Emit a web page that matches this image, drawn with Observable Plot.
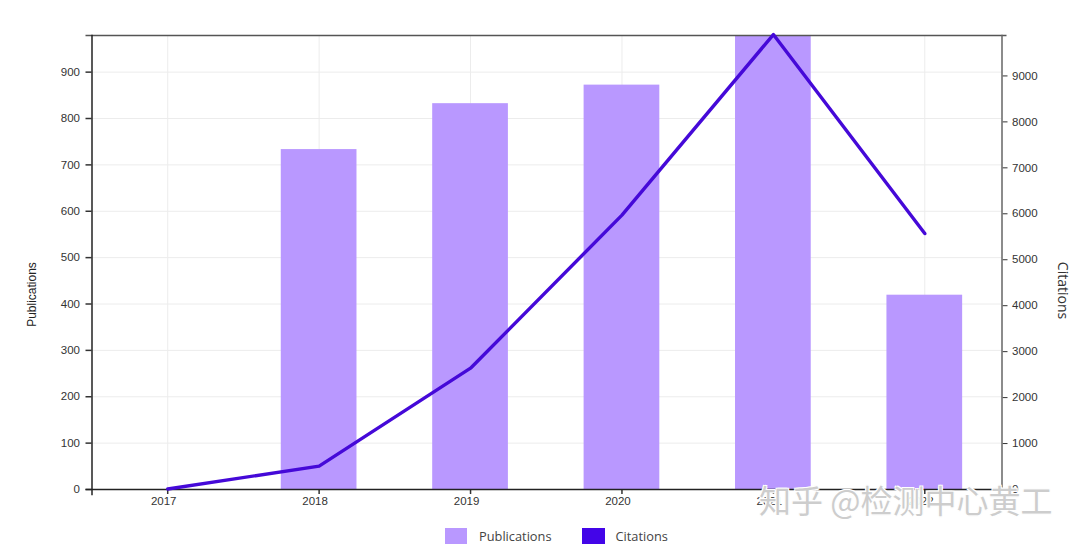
<!DOCTYPE html>
<html><head><meta charset="utf-8">
<script src="https://cdn.jsdelivr.net/npm/d3@7"></script>
<script src="https://cdn.jsdelivr.net/npm/@observablehq/plot@0.6"></script>
<style>
html,body{margin:0;padding:0;background:#fff;overflow:hidden}
#wrap{position:relative;width:1080px;height:546px;font-family:"Liberation Sans",Arial,sans-serif}
#chart svg{display:block}
#legend{position:absolute;left:445px;top:527.5px;height:17px;display:flex;align-items:center;font:12.8px "Open Sans",sans-serif;color:#444}
#legend i{display:inline-block;height:16px}
#legend i.a{width:22px;margin-right:12px}
#legend i.b{width:23px;margin-right:11px}
#legend span{margin-right:30px}
#mark{position:absolute;left:759px;top:479px;font:32px "Noto Sans CJK SC",sans-serif;color:#cdcdcd;white-space:pre;line-height:40px;
 text-shadow:1px 1px 0 #fff,-1px -1px 0 #fff,1px -1px 0 #fff,-1px 1px 0 #fff,0 0 1px #999}
</style></head><body>
<div id="wrap"><div id="chart"></div>
<div id="legend"><i class="a" style="background:#b998ff"></i><span>Publications</span><i class="b" style="background:#4305e8"></i><span>Citations</span></div>
<div id="mark">知乎 @检测中心黄工</div></div>
<script>
const years = ["2017","2018","2019","2020","2021","2022"];
const publications = [0,733,832,872,985,419];
const citations = [10,510,2640,5970,9900,5570];
const pubTicks = [0,100,200,300,400,500,600,700,800,900];
const citTicks = [0,1000,2000,3000,4000,5000,6000,7000,8000,9000];
const pubTop = 979, citTop = 9880;
const table = years.map((year,i)=>({year,publications:publications[i],citations:citations[i]}));
const toPub = d3.scaleLinear([0,citTop],[0,pubTop]);
const ink = "#333";
const chart = Plot.plot({
  width:1080,height:524,
  marginLeft:91.5,marginRight:78.5,marginTop:35,marginBottom:35,
  style:{fontFamily:'"Liberation Sans",Arial,sans-serif',fontSize:"11.5px",background:"#fff"},
  x:{type:"band",domain:years,paddingInner:0.5,paddingOuter:0.25,align:0.5,round:false,insetRight:1.5,label:null},
  y:{domain:[0,pubTop],label:null},
  marks:[
    Plot.gridY(pubTicks,{stroke:"#ececec",strokeOpacity:1}),
    Plot.gridX(years,{stroke:"#ececec",strokeOpacity:1}),
    Plot.barY(table,{x:"year",y:"publications",fill:"#b998ff",clip:true}),
    Plot.ruleY([pubTop],{stroke:"#555",strokeWidth:1.5,insetLeft:-6,insetRight:-5}),
    Plot.axisY({ticks:pubTicks,anchor:"left",tickSize:6,tickPadding:6,label:null,color:ink,strokeWidth:1.5}),
    Plot.axisY({ticks:citTicks.map(toPub),anchor:"right",tickSize:5,tickPadding:5,label:null,color:ink,
      tickFormat:d=>String(Math.round(toPub.invert(d)))}),
    Plot.axisX({tickSize:5,text:null,color:ink,label:null,strokeWidth:1.5}),
    Plot.axisX({tickSize:0,tickPadding:7,dx:-4,color:ink,label:null,fontSize:11.5}),
    Plot.ruleY([0],{stroke:"#222",strokeWidth:1.5,insetLeft:-6,insetRight:-5}),
    Plot.frame({anchor:"left",stroke:"#222",strokeWidth:1.5,insetBottom:-5}),
    Plot.frame({anchor:"right",stroke:"#666",strokeWidth:1.5}),
    Plot.line(table,{x:"year",y:d=>toPub(d.citations),stroke:"#4509d8",strokeWidth:3.4,strokeLinejoin:"round"}),
    Plot.text(["Publications"],{frameAnchor:"left",textAnchor:"middle",dx:-60,dy:32,rotate:-90,fontSize:12,fill:"#222"}),
    Plot.text(["Citations"],{frameAnchor:"right",textAnchor:"middle",dx:60,dy:28,rotate:90,fontSize:14,fill:"#333",fontFamily:'"Open Sans",sans-serif'})
  ]
});
document.getElementById("chart").append(chart);
</script></body></html>
